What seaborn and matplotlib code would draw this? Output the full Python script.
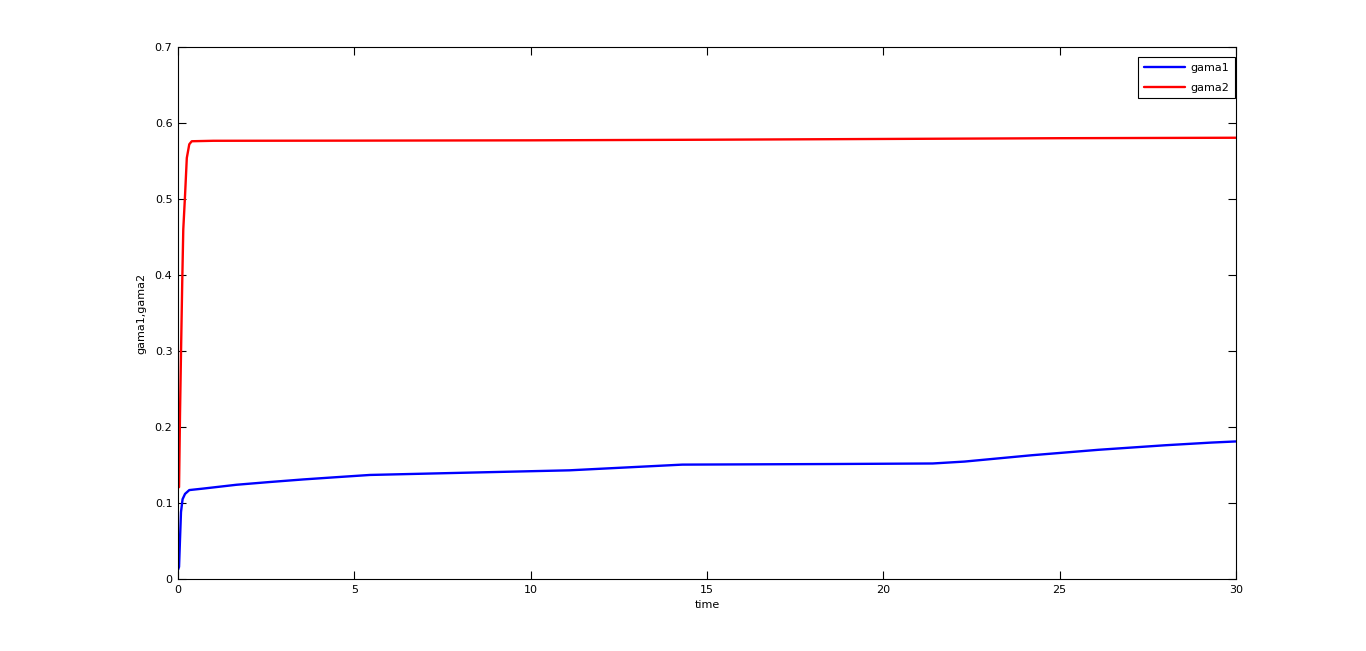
import numpy as np
import pandas as pd
import matplotlib
matplotlib.use('Agg')
import matplotlib.pyplot as plt
import seaborn as sns

# values
t_g1 = [0.0, 0.03, 0.057, 0.085, 0.13, 0.2, 0.32, 0.72, 1.66, 2.6, 3.55, 4.5, 5.44, 8.28,
        11.1, 14.3, 18.6, 21.4, 22.3, 24.2, 26.1, 28.0, 29.3, 30.0]
gama1 = [0.012, 0.016, 0.052, 0.088, 0.105, 0.112, 0.117, 0.119, 0.124, 0.1276, 0.131,
         0.134, 0.1369, 0.140, 0.143, 0.1505, 0.1513, 0.152, 0.1545, 0.1628, 0.170,
         0.176, 0.1795, 0.181]

t_g2 = [0.0, 0.03, 0.057, 0.085, 0.12, 0.15, 0.2, 0.25, 0.32, 0.39, 1.0, 5.0, 10.0,
        15.0, 20.0, 25.0, 30.0]
gama2 = [0.12, 0.121, 0.216, 0.296, 0.39, 0.46, 0.505, 0.554, 0.572, 0.576, 0.5766,
         0.5768, 0.5772, 0.578, 0.579, 0.580, 0.5806]

df = pd.concat([
    pd.DataFrame({'time': t_g1, 'value': gama1, 'series': 'gama1'}),
    pd.DataFrame({'time': t_g2, 'value': gama2, 'series': 'gama2'}),
])

sns.set_style('ticks')
plt.rcParams['font.family'] = ['DejaVu Sans']
plt.rcParams['xtick.direction'] = 'in'
plt.rcParams['ytick.direction'] = 'in'
plt.rcParams['text.color'] = 'black'
plt.rcParams['axes.labelcolor'] = 'black'
plt.rcParams['xtick.color'] = 'black'
plt.rcParams['ytick.color'] = 'black'

fig = plt.figure(figsize=(13.66, 6.51), dpi=100)
ax = fig.add_axes([0.1303, 0.1106, 0.7745, 0.8172])

sns.lineplot(data=df, x='time', y='value', hue='series', sort=False,
             palette={'gama1': '#0000ff', 'gama2': '#ff0000'}, linewidth=1.7, ax=ax)

ax.set_xlim(0, 30)
ax.set_ylim(0, 0.7)
ax.set_xticks(np.arange(0, 31, 5))
ax.set_yticks(np.arange(0, 0.71, 0.1))
ax.set_yticklabels(['0', '0.1', '0.2', '0.3', '0.4', '0.5', '0.6', '0.7'])
ax.tick_params(labelsize=8, length=6, width=0.8, top=True, right=True, pad=4)
for s in ax.spines.values():
    s.set_linewidth(0.8)
    s.set_edgecolor('black')
    s.set_visible(True)
ax.set_xlabel('time', fontsize=8, labelpad=4)
ax.set_ylabel('gama1,gama2', fontsize=8, labelpad=6)

leg = ax.legend(loc='upper right', bbox_to_anchor=(0.9991, 0.9812), borderaxespad=0,
                fontsize=8, frameon=True, fancybox=False, edgecolor='black',
                framealpha=1, handlelength=3.7, handletextpad=0.5,
                labelspacing=0.9, borderpad=0.5)
leg.get_frame().set_linewidth(0.8)

fig.savefig('out.png', dpi=100, facecolor='white')
